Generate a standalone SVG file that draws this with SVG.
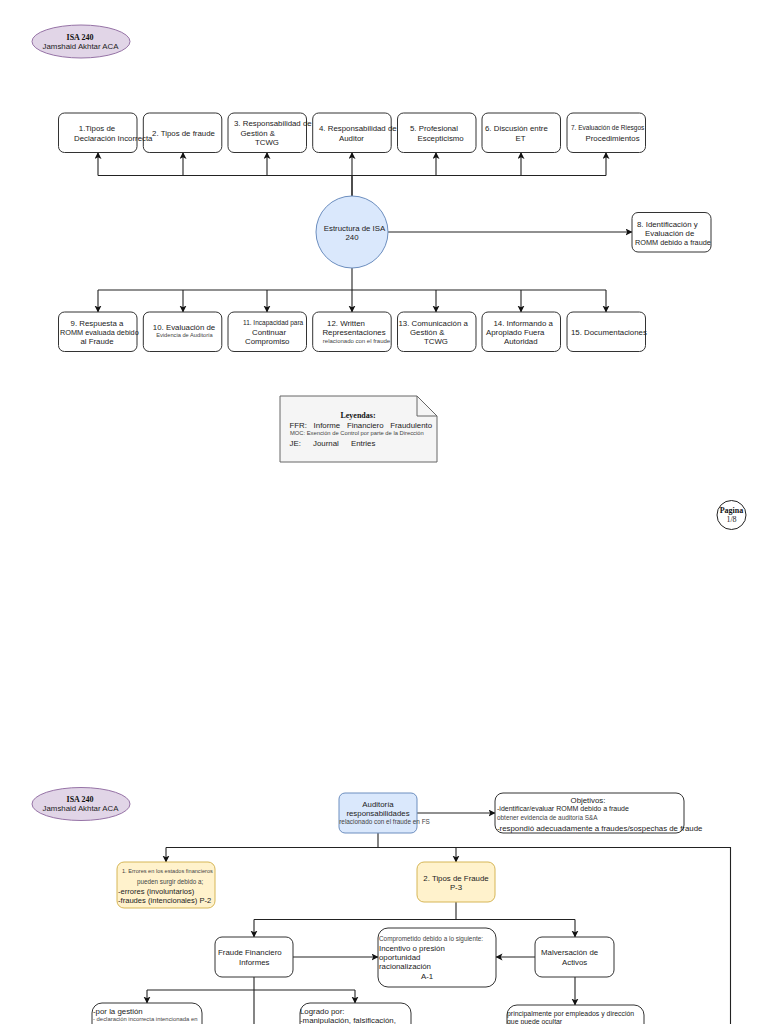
<svg xmlns="http://www.w3.org/2000/svg" width="768" height="1024" viewBox="0 0 768 1024">
<style>
text{font-family:"Liberation Sans",Arial,sans-serif;font-size:7.85px;fill:#222}
.s{font-size:6.5px}
.xs{font-size:6px;fill:#444}
.m{font-size:7.3px}
.t{font-size:7.6px}
.c{text-anchor:middle}
.b{font-family:"Liberation Serif","Times New Roman",serif;font-weight:bold;font-size:8px;fill:#111}
.box{fill:#fff;stroke:#333;stroke-width:1}
.blue{fill:#dae8fc;stroke:#6c8ebf;stroke-width:1}
.yel{fill:#fff2cc;stroke:#d6b656;stroke-width:1}
.pur{fill:#e1d5e7;stroke:#9673a6;stroke-width:1}
#connectors path{fill:none;stroke:#222;stroke-width:1.1}
.arr{marker-end:url(#a)}
</style>
<defs>
<marker id="a" markerUnits="userSpaceOnUse" markerWidth="8" markerHeight="8" refX="6.5" refY="3.5" orient="auto"><path d="M0 0L7 3.5L0 7L1.7 3.5Z" fill="#111"/></marker>
</defs>
<rect width="768" height="1024" fill="#fff"/>
<g id="connectors">
<path d="M352 196V175.5M98 175.5H606"/>
<path class="arr" d="M98 175.5V152.5"/><path class="arr" d="M183 175.5V152.5"/><path class="arr" d="M267 175.5V152.5"/><path class="arr" d="M352 196V152.5"/><path class="arr" d="M436 175.5V152.5"/><path class="arr" d="M521 175.5V152.5"/><path class="arr" d="M606 175.5V152.5"/>
<path class="arr" d="M388 232H632"/>
<path d="M98 290H606"/>
<path class="arr" d="M352 268V312"/><path class="arr" d="M98 290V312"/><path class="arr" d="M183 290V312"/><path class="arr" d="M267 290V312"/><path class="arr" d="M436 290V312"/><path class="arr" d="M521 290V312"/><path class="arr" d="M606 290V312"/>
<path class="arr" d="M417 813H495"/>
<path d="M378 833V847.5M166 847.5H730.5V1024"/>
<path class="arr" d="M166 847.5V862"/><path class="arr" d="M456 847.5V862"/>
<path d="M456 902V919.5"/><path class="arr" d="M254 919.5V937"/><path class="arr" d="M575 919.5V937"/><path d="M254 919.5H575"/>
<path class="arr" d="M293 957H378"/><path class="arr" d="M535 957H496"/>
<path class="arr" d="M575 977V1005"/>
<path d="M254 977V1024M147 990H355"/><path class="arr" d="M147 990V1003"/><path class="arr" d="M355 990V1003"/>
</g>
<g id="header1"><ellipse class="pur" cx="81" cy="41.5" rx="49" ry="16.5"/><text class="b c" x="80" y="40">ISA 240</text><text class="c" x="80.500" y="49">Jamshaid Akhtar ACA</text></g>
<g id="n7"><rect class="box" x="567" y="113" width="78.500" height="39.500" rx="6"/><text class="s" x="571" y="130">7. Evaluación de Riesgos</text><text x="585.500" y="141">Procedimientos</text></g>
<g id="n6"><rect class="box" x="482" y="113" width="78.500" height="39.500" rx="6"/><text x="485" y="131">6. Discusión entre</text><text x="515.500" y="141">ET</text></g>
<g id="n5"><rect class="box" x="397.500" y="113" width="78.500" height="39.500" rx="6"/><text x="410" y="131">5. Profesional</text><text x="417.500" y="141">Escepticismo</text></g>
<g id="n4"><rect class="box" x="312.700" y="113" width="78.500" height="39.500" rx="6"/><text x="319" y="131">4. Responsabilidad de</text><text x="339" y="141">Auditor</text></g>
<g id="n3"><rect class="box" x="228" y="113" width="78.500" height="39.500" rx="6"/><text x="234" y="126">3. Responsabilidad de</text><text x="240.500" y="136">Gestión &amp;</text><text x="255" y="145">TCWG</text></g>
<g id="n2"><rect class="box" x="143.300" y="113" width="78.500" height="39.500" rx="6"/><text class="c" x="183.500" y="136">2. Tipos de fraude</text></g>
<g id="n1"><rect class="box" x="58.500" y="113" width="78.500" height="39.500" rx="6"/><text class="c" x="97" y="131">1.Tipos de</text><text x="74" y="141">Declaración Incorrecta</text></g>
<g id="center"><circle class="blue" cx="352" cy="232" r="36"/><text class="c" x="354.500" y="231">Estructura de ISA</text><text class="c" x="352" y="240">240</text></g>
<g id="n8"><rect class="box" x="632" y="212.500" width="79" height="39.500" rx="6"/><text x="637" y="227">8. Identificación y</text><text x="645" y="236">Evaluación de</text><text class="m" x="635" y="245">ROMM debido a fraude</text></g>
<g id="n9"><rect class="box" x="58.500" y="312" width="78.500" height="39.500" rx="6"/><text class="c" x="97" y="326">9. Respuesta a</text><text class="m" x="60" y="335">ROMM evaluada debido</text><text class="c" x="97" y="344">al Fraude</text></g>
<g id="n10"><rect class="box" x="143.300" y="312" width="78.500" height="39.500" rx="6"/><text class="c" x="184" y="330">10. Evaluación de</text><text class="xs c" style="font-size:5.7px" x="184.500" y="337">Evidencia de Auditoría</text></g>
<g id="n11"><rect class="box" x="228" y="312" width="78.500" height="39.500" rx="6"/><text class="s" x="243" y="325">11. Incapacidad para</text><text x="252" y="335">Continuar</text><text x="245" y="344">Compromiso</text></g>
<g id="n15"><rect class="box" x="567" y="312" width="78.500" height="39.500" rx="6"/><text x="571" y="335">15. Documentaciones</text></g>
<g id="n14"><rect class="box" x="482" y="312" width="78.500" height="39.500" rx="6"/><text x="493.500" y="326">14. Informando a</text><text x="486" y="335">Apropiado Fuera</text><text x="504" y="344">Autoridad</text></g>
<g id="n13"><rect class="box" x="397.500" y="312" width="78.500" height="39.500" rx="6"/><text x="398.500" y="326">13. Comunicación a</text><text x="410" y="335">Gestión &amp;</text><text x="424" y="344">TCWG</text></g>
<g id="n12"><rect class="box" x="312.700" y="312" width="78.500" height="39.500" rx="6"/><text class="c" x="346" y="326">12. Written</text><text class="c" x="354" y="335">Representaciones</text><text class="xs c" x="356.500" y="343">relacionado con el fraude</text></g>
<g id="legend"><path d="M280 396H417L437 416V462H280Z" fill="#f5f5f5" stroke="#666"/><path d="M417 396V416H437" fill="none" stroke="#666"/><text class="b c" x="358" y="418">Leyendas:</text><text x="289.500" y="428" word-spacing="4.500">FFR: Informe Financiero Fraudulento</text><text class="xs" style="font-size:5.8px" x="290" y="435">MOC: Exención de Control por parte de la Dirección</text><text x="289.500" y="446" word-spacing="10">JE: Journal Entries</text></g>
<g id="page"><circle cx="731.500" cy="515" r="14.500" fill="#fff" stroke="#222"/><text class="c" style="font-family:'Liberation Serif',serif;font-size:8px;font-weight:bold;fill:#111" x="731.500" y="513">Pagina</text><text class="c" style="font-family:'Liberation Serif',serif;font-size:8px" x="731.500" y="522">1/8</text></g>
<g id="header2"><ellipse class="pur" cx="81" cy="804" rx="49" ry="16.500"/><text class="b c" x="80" y="802">ISA 240</text><text class="c" x="80.500" y="811">Jamshaid Akhtar ACA</text></g>
<g id="auditoria"><rect class="blue" x="339" y="793" width="78" height="40" rx="6"/><text class="c" x="378" y="807">Auditoría</text><text class="c" x="378" y="816">responsabilidades</text><text class="xs c" style="font-size:6.400px" x="384.500" y="824">relacionado con el fraude en FS</text></g>
<g id="objetivos"><rect class="box" x="495" y="793" width="189" height="40" rx="8"/><text class="c" x="588" y="803">Objetivos:</text><text class="m" style="font-size:7px" x="497" y="811">-identificar/evaluar ROMM debido a fraude</text><text class="xs" style="font-size:6.400px" x="497" y="820">obtener evidencia de auditoría S&amp;A</text><text x="497" y="831">-respondió adecuadamente a fraudes/sospechas de fraude</text></g>
<g id="errores"><rect class="yel" x="117" y="862" width="98" height="46" rx="7"/><text class="xs" style="font-size:5.600px" x="122" y="873">1. Errores en los estados financieros</text><text class="xs" style="font-size:6.300px" x="137" y="884">pueden surgir debido a;</text><text class="t" x="118" y="894">-errores (involuntarios)</text><text class="t" x="118" y="903">-fraudes (intencionales) P-2</text></g>
<g id="tipos"><rect class="yel" x="417" y="862" width="78" height="40" rx="7"/><text class="c" x="456" y="881">2. Tipos de Fraude</text><text class="c" x="456" y="890">P-3</text></g>
<g id="fraude"><rect class="box" x="215" y="937" width="78" height="40" rx="7"/><text x="218" y="955">Fraude Financiero</text><text x="239" y="965">Informes</text></g>
<g id="comprometido"><rect class="box" x="378" y="928" width="118" height="59" rx="10"/><text class="xs" style="font-size:6.400px" x="379" y="941">Comprometido debido a lo siguiente:</text><text x="379" y="951">Incentivo o presión</text><text x="379" y="960">oportunidad</text><text x="379" y="969">racionalización</text><text x="421" y="979">A-1</text></g>
<g id="malversacion"><rect class="box" x="535" y="937" width="79" height="40" rx="7"/><text x="541" y="955">Malversación de</text><text x="562" y="965">Activos</text></g>
<g id="gestion"><rect class="box" x="92" y="1003" width="110" height="40" rx="10"/><text x="93" y="1014">-por la gestión</text><text class="xs" style="font-size:5.900px" x="93" y="1021">- declaración incorrecta intencionada en</text></g>
<g id="logrado"><rect class="box" x="300" y="1003" width="111" height="40" rx="10"/><text x="300" y="1014">Logrado por:</text><text x="300" y="1023">-manipulación, falsificación,</text></g>
<g id="empleados"><rect class="box" x="507" y="1005" width="137" height="40" rx="10"/><text class="m" style="font-size:6.900px" x="507" y="1015.500">principalmente por empleados y dirección</text><text class="m" style="font-size:6.900px" x="507" y="1023.500">que puede ocultar</text></g>
</svg>
